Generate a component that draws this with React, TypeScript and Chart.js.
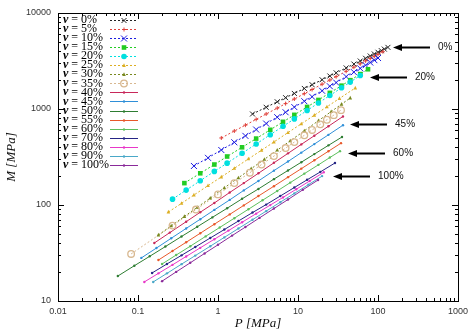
import React, { useEffect, useRef } from 'react';
import { Chart, registerables } from 'chart.js';

Chart.register(...registerables);

// ---- tick labels ----
const X_TICKS = [0.01, 0.1, 1, 10, 100, 1000];
const X_TICK_LABELS = ['0.01', '0.1', '1', '10', '100', '1000'];
const Y_TICKS = [10, 100, 1000, 10000];
const Y_TICK_LABELS = ['10', '100', '1000', '10000'];

// ---- series labels ----
const SERIES_LABELS = ['0%', '5%', '10%', '15%', '20%', '25%', '30%', '35%', '40%', '45%', '50%', '55%', '60%', '70%', '80%', '90%', '100%'];

// ---- series values: P [MPa] and M [MPa] ----
const P_00 = [2.7, 4, 5.5, 7, 9, 12, 15, 20, 25, 30, 40, 50, 60, 70, 80, 90, 100, 110, 120, 133];
const M_00 = [887, 1042, 1189, 1312, 1453, 1637, 1791, 2018, 2208, 2382, 2679, 2938, 3162, 3373, 3565, 3741, 3899, 4055, 4207, 4385];
const P_05 = [1.1, 1.6, 2.2, 3, 4, 5.5, 7, 9, 12, 15, 20, 25, 30, 40, 50, 60, 70, 80, 90, 100, 115];
const M_05 = [499, 590, 679, 780, 887, 1021, 1138, 1271, 1445, 1596, 1815, 2004, 2173, 2472, 2729, 2958, 3170, 3365, 3540, 3715, 3954];
const P_10 = [0.5, 0.75, 1.1, 1.6, 2.2, 3, 4, 5.5, 7, 9, 12, 15, 20, 25, 30, 40, 50, 60, 70, 80, 90, 100];
const M_10 = [255, 310, 374, 450, 525, 611, 705, 822, 925, 1047, 1205, 1343, 1549, 1726, 1884, 2173, 2421, 2649, 2858, 3048, 3228, 3396];
const P_15 = [0.38, 0.6, 0.9, 1.3, 2, 3, 4.5, 6.5, 9, 13, 18, 25, 35, 45, 60, 75];
const M_15 = [169, 214, 264, 320, 399, 492, 607, 735, 869, 1050, 1242, 1472, 1750, 1995, 2312, 2594];
const P_20 = [0.27, 0.4, 0.6, 0.9, 1.3, 2, 3, 4.5, 6.5, 9, 13, 18, 25, 35, 45, 60];
const M_20 = [115, 143, 179, 224, 273, 346, 432, 540, 660, 789, 966, 1154, 1383, 1662, 1906, 2233];
const P_25 = [0.24, 0.35, 0.5, 0.75, 1.1, 1.6, 2.4, 3.5, 5, 7.5, 11, 16, 23, 33, 52];
const M_25 = [84.5, 104, 127, 159, 196, 241, 302, 372, 453, 568, 701, 862, 1054, 1288, 1656];
const P_30 = [0.18, 0.26, 0.38, 0.55, 0.8, 1.2, 1.8, 2.6, 3.8, 5.5, 8, 12, 18, 26, 35, 45];
const M_30 = [48.7, 60.6, 76, 94.6, 118, 151, 192, 239, 299, 373, 466, 593, 755, 940, 1122, 1303];
const P_35 = [0.082, 0.27, 0.53, 1, 1.6, 2.5, 3.5, 5, 7, 9, 12, 15, 19, 23, 28, 34.5];
const M_35 = [30.9, 61, 89.7, 129, 169, 217, 264, 323, 392, 452, 532, 605, 692, 773, 863, 973];
const P_40 = [0.16, 0.25, 0.4, 0.6, 0.9, 1.4, 2.1, 3.2, 5, 7.5, 11, 16, 24, 36.5];
const M_40 = [40.2, 51.6, 67, 84.1, 105, 135, 169, 214, 275, 345, 428, 527, 661, 836];
const P_45 = [0.11, 0.17, 0.26, 0.4, 0.6, 0.9, 1.4, 2.1, 3.2, 5, 7.5, 11, 16, 24, 36.5];
const M_45 = [28.1, 35.6, 45, 57, 71.1, 88.9, 113, 142, 178, 228, 284, 351, 431, 538, 678];
const P_50 = [0.056, 0.09, 0.14, 0.22, 0.35, 0.55, 0.85, 1.3, 2, 3.2, 5, 7.5, 11, 16, 24, 35.5];
const M_50 = [18.2, 23.3, 29.2, 36.9, 47, 59.3, 74.3, 92.5, 116, 147, 186, 229, 279, 339, 418, 511];
const P_55 = [0.18, 0.27, 0.4, 0.6, 0.9, 1.4, 2.1, 3.2, 5, 7.5, 11, 16, 24, 34.5];
const M_55 = [26.7, 33.2, 40.9, 50.8, 63.1, 79.8, 99.1, 124, 157, 195, 239, 292, 363, 441];
const P_60 = [0.2, 0.3, 0.45, 0.7, 1.05, 1.6, 2.4, 3.6, 5.5, 8, 12, 18, 25, 33.5];
const M_60 = [24.3, 30.1, 37.2, 47.1, 58.3, 72.9, 90.3, 112, 140, 171, 212, 262, 312, 364];
const P_70 = [0.15, 0.23, 0.35, 0.52, 0.8, 1.2, 1.8, 2.7, 4, 6, 9, 13, 19, 29];
const M_70 = [19.6, 24.3, 29.9, 36.5, 45.3, 55.5, 68.1, 83.4, 101, 124, 152, 183, 221, 274];
const P_80 = [0.12, 0.18, 0.27, 0.4, 0.6, 0.9, 1.35, 2, 3, 4.5, 6.5, 9.5, 14, 21];
const M_80 = [15.8, 19.4, 23.8, 29.1, 35.8, 44, 54.1, 66.1, 81.3, 99.8, 120, 146, 178, 219];
const P_90 = [0.155, 0.23, 0.35, 0.52, 0.8, 1.2, 1.8, 2.7, 4, 6, 9, 13.5, 20];
const M_90 = [15.8, 19.4, 24.2, 29.7, 37.2, 46, 56.9, 70.3, 86.3, 107, 132, 163, 200];
const P_100 = [0.2, 0.3, 0.45, 0.68, 1, 1.5, 2.2, 3.3, 5, 7.5, 11.5, 17.8];
const M_100 = [16.1, 20.1, 25, 31.3, 38.5, 48, 58.9, 73.4, 91.8, 114, 144, 182];

const SERIES_P = [P_00, P_05, P_10, P_15, P_20, P_25, P_30, P_35, P_40, P_45, P_50, P_55, P_60, P_70, P_80, P_90, P_100];
const SERIES_M = [M_00, M_05, M_10, M_15, M_20, M_25, M_30, M_35, M_40, M_45, M_50, M_55, M_60, M_70, M_80, M_90, M_100];

// ---- arrow annotations (tip in data coordinates) ----
const ARROW_LABELS = ['0%', '20%', '45%', '60%', '100%'];
const ARROW_P = [154, 79.4, 44.7, 42.2, 27.4];
const ARROW_M = [4425, 2154, 698, 348, 200];

// ---- styles ----
type Sty = { color: string; dash: number[]; point: string; r: number };
const STYLES: Sty[] = [
  { color: '#222222', dash: [2, 2], point: 'crossRot', r: 2.5 },
  { color: '#e0403a', dash: [2, 2], point: 'cross', r: 2 },
  { color: '#1a1ae0', dash: [2, 2], point: 'crossRot', r: 3 },
  { color: '#22cc22', dash: [2, 2], point: 'rect', r: 2.3 },
  { color: '#00e0e0', dash: [2, 2], point: 'circle', r: 2.8 },
  { color: '#dcae22', dash: [2, 2], point: 'triangle', r: 1.8 },
  { color: '#78881e', dash: [2, 2], point: 'triangle', r: 1.8 },
  { color: '#d8b890', dash: [2, 2], point: 'circleOpen', r: 3.3 },
  { color: '#c8285a', dash: [], point: 'circle', r: 1.2 },
  { color: '#2f8fd8', dash: [], point: 'circle', r: 1.2 },
  { color: '#2e7d32', dash: [], point: 'circle', r: 1.2 },
  { color: '#e8582a', dash: [], point: 'circle', r: 1.2 },
  { color: '#5cbf5c', dash: [], point: 'circle', r: 1.2 },
  { color: '#252585', dash: [], point: 'circle', r: 1.2 },
  { color: '#e838c8', dash: [], point: 'circle', r: 1.2 },
  { color: '#4aa8c8', dash: [], point: 'circle', r: 1.2 },
  { color: '#8a2a9a', dash: [], point: 'circle', r: 1.2 },
];

function drawMarker(ctx: CanvasRenderingContext2D, s: Sty, x: number, y: number) {
  const r = s.r;
  ctx.save();
  ctx.setLineDash([]);
  ctx.strokeStyle = s.color;
  ctx.fillStyle = s.color;
  ctx.lineWidth = s.point === 'circleOpen' ? 1.3 : 1;
  ctx.beginPath();
  switch (s.point) {
    case 'crossRot':
      ctx.moveTo(x - r, y - r); ctx.lineTo(x + r, y + r);
      ctx.moveTo(x + r, y - r); ctx.lineTo(x - r, y + r);
      ctx.stroke();
      break;
    case 'cross':
      ctx.moveTo(x - r, y); ctx.lineTo(x + r, y);
      ctx.moveTo(x, y - r); ctx.lineTo(x, y + r);
      ctx.stroke();
      break;
    case 'rect':
      ctx.rect(x - r, y - r, 2 * r, 2 * r);
      ctx.fill();
      break;
    case 'triangle':
      ctx.moveTo(x, y - r * 1.2); ctx.lineTo(x + r, y + r * 0.8); ctx.lineTo(x - r, y + r * 0.8);
      ctx.closePath(); ctx.fill();
      break;
    case 'circleOpen':
      ctx.arc(x, y, r, 0, Math.PI * 2);
      ctx.stroke();
      break;
    default:
      ctx.arc(x, y, r, 0, Math.PI * 2);
      ctx.fill();
  }
  ctx.restore();
}

const overlayPlugin = {
  id: 'overlay',
  afterDraw(chart: any) {
    const ctx: CanvasRenderingContext2D = chart.ctx;
    const { left, right, top, bottom } = chart.chartArea;
    const xs = chart.scales.x;
    const ys = chart.scales.y;
    ctx.save();
    // frame
    ctx.strokeStyle = '#000';
    ctx.lineWidth = 1;
    ctx.setLineDash([]);
    ctx.strokeRect(Math.round(left) + 0.5, Math.round(top) + 0.5, Math.round(right - left), Math.round(bottom - top));
    // ticks
    ctx.beginPath();
    for (let d = -2; d < 3; d++) {
      for (let k = 1; k <= 9; k++) {
        const v = k * Math.pow(10, d);
        const px = Math.round(xs.getPixelForValue(v)) + 0.5;
        const len = k === 1 ? 6 : 3;
        ctx.moveTo(px, bottom); ctx.lineTo(px, bottom - len);
        ctx.moveTo(px, top); ctx.lineTo(px, top + len);
      }
    }
    for (let d = 1; d < 4; d++) {
      for (let k = 1; k <= 9; k++) {
        const v = k * Math.pow(10, d);
        const py = Math.round(ys.getPixelForValue(v)) + 0.5;
        const len = k === 1 ? 6 : 3;
        ctx.moveTo(left, py); ctx.lineTo(left + len, py);
        ctx.moveTo(right, py); ctx.lineTo(right - len, py);
      }
    }
    ctx.stroke();

    // legend
    const rowY0 = 20;
    const rowH = 9.05;
    SERIES_LABELS.forEach((lab, i) => {
      const y = rowY0 + i * rowH;
      ctx.fillStyle = '#000';
      ctx.textBaseline = 'middle';
      ctx.textAlign = 'left';
      ctx.font = 'italic bold 12px "Liberation Serif", serif';
      ctx.fillText('ν', 63, y);
      const w = ctx.measureText('ν').width;
      ctx.font = '12px "Liberation Serif", serif';
      ctx.fillText(' = ' + lab, 63 + w, y);
      const s = STYLES[i];
      ctx.strokeStyle = s.color;
      ctx.lineWidth = 1;
      ctx.setLineDash(s.dash);
      ctx.beginPath();
      ctx.moveTo(110, Math.round(y) + 0.5);
      ctx.lineTo(138, Math.round(y) + 0.5);
      ctx.stroke();
      ctx.setLineDash([]);
      drawMarker(ctx, s, 124, Math.round(y) + 0.5);
    });

    // arrows
    ARROW_LABELS.forEach((lab, i) => {
      const tx = xs.getPixelForValue(ARROW_P[i]);
      const ty = Math.round(ys.getPixelForValue(ARROW_M[i])) + 0.5;
      const tail = tx + 37;
      ctx.strokeStyle = '#000';
      ctx.fillStyle = '#000';
      ctx.lineWidth = 2;
      ctx.beginPath();
      ctx.moveTo(tx + 7, ty);
      ctx.lineTo(tail, ty);
      ctx.stroke();
      ctx.beginPath();
      ctx.moveTo(tx, ty);
      ctx.lineTo(tx + 9, ty - 3.5);
      ctx.lineTo(tx + 9, ty + 3.5);
      ctx.closePath();
      ctx.fill();
      ctx.font = '10px "Liberation Sans", Arial, sans-serif';
      ctx.textBaseline = 'middle';
      ctx.textAlign = 'left';
      ctx.fillStyle = '#111';
      ctx.fillText(lab, tail + 8, ty);
    });
    ctx.restore();
  },
};

export default function App() {
  const ref = useRef<HTMLCanvasElement | null>(null);
  useEffect(() => {
    if (!ref.current) return;
    const datasets = SERIES_LABELS.map((lab, i) => {
      const s = STYLES[i];
      return {
        label: lab,
        data: SERIES_P[i].map((p, j) => ({ x: p, y: SERIES_M[i][j] })),
        borderColor: s.color,
        backgroundColor: s.color,
        borderWidth: 1,
        borderDash: s.dash,
        tension: 0,
        pointRadius: 0,
        pointHoverRadius: 0,
        fill: false,
      };
    });
    const markerPlugin = {
      id: 'markers',
      afterDatasetsDraw(chart: any) {
        const ctx = chart.ctx;
        ctx.save();
        ctx.beginPath();
        const a = chart.chartArea;
        ctx.rect(a.left, a.top, a.right - a.left, a.bottom - a.top);
        ctx.clip();
        chart.data.datasets.forEach((ds: any, i: number) => {
          const meta = chart.getDatasetMeta(i);
          meta.data.forEach((pt: any) => drawMarker(ctx, STYLES[i], pt.x, pt.y));
        });
        ctx.restore();
      },
    };
    const chart = new Chart(ref.current, {
      type: 'line',
      data: { datasets },
      options: {
        animation: false,
        responsive: false,
        devicePixelRatio: 1,
        events: [],
        layout: { padding: { top: 13, right: 16, left: 0, bottom: 0 } },
        plugins: { legend: { display: false }, tooltip: { enabled: false } },
        scales: {
          x: {
            type: 'logarithmic',
            min: 0.01,
            max: 1000,
            afterBuildTicks: (scale: any) => {
              scale.ticks = X_TICKS.map((v) => ({ value: v }));
            },
            afterFit: (scale: any) => {
              scale.height = 30;
            },
            ticks: {
              autoSkip: false,
              maxRotation: 0,
              padding: 5,
              color: '#333',
              font: { family: '"Liberation Sans", Arial, sans-serif', size: 9 },
              callback: (v: any) => X_TICK_LABELS[X_TICKS.indexOf(Number(v))] ?? '',
            },
            grid: { display: false, drawTicks: false },
            border: { display: false },
            title: {
              display: true,
              text: 'P [MPa]',
              color: '#111',
              padding: { top: 0, bottom: 0 },
              font: { family: '"Liberation Serif", serif', size: 13, style: 'italic' },
            },
          },
          y: {
            type: 'logarithmic',
            min: 10,
            max: 10000,
            afterBuildTicks: (scale: any) => {
              scale.ticks = Y_TICKS.map((v) => ({ value: v }));
            },
            afterFit: (scale: any) => {
              scale.width = 58;
            },
            ticks: {
              autoSkip: false,
              padding: 7,
              color: '#333',
              font: { family: '"Liberation Sans", Arial, sans-serif', size: 9 },
              callback: (v: any) => Y_TICK_LABELS[Y_TICKS.indexOf(Number(v))] ?? '',
            },
            grid: { display: false, drawTicks: false },
            border: { display: false },
            title: {
              display: true,
              text: 'M [MPa]',
              color: '#111',
              padding: { top: 4, bottom: 0 },
              font: { family: '"Liberation Serif", serif', size: 13, style: 'italic' },
            },
          },
        },
      },
      plugins: [markerPlugin, overlayPlugin],
    } as any);
    return () => chart.destroy();
  }, []);
  return (
    <div style={{ position: 'absolute', left: 0, top: 0, width: 474, height: 331, background: '#fff' }}>
      <canvas ref={ref} width={474} height={331} style={{ display: 'block', width: 474, height: 331 }} />
    </div>
  );
}
